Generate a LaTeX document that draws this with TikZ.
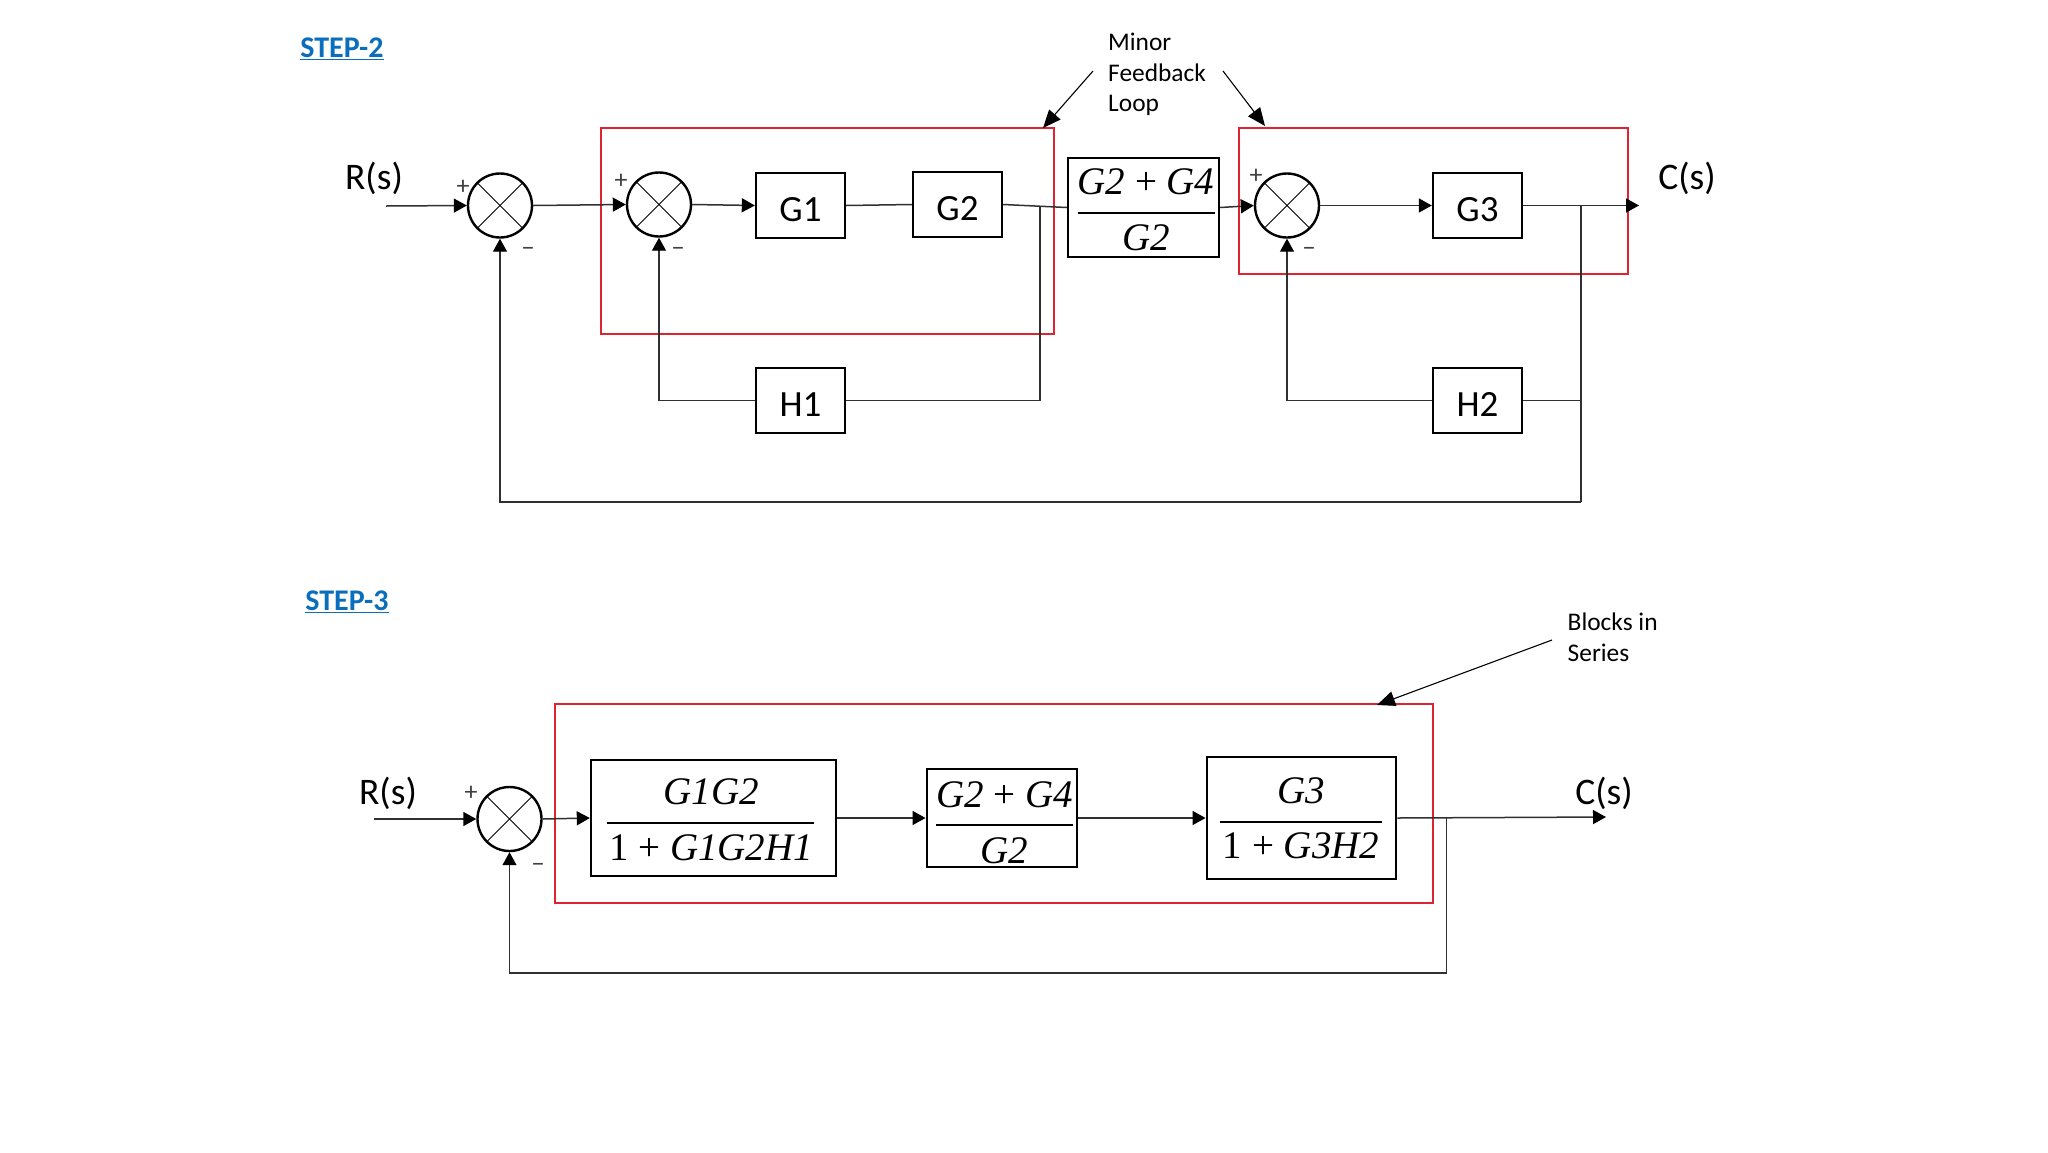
\documentclass[tikz,border=0pt]{standalone}
\usepackage{fontspec}
\setmainfont{Carlito}
\newfontfamily\eqfont{Liberation Serif}
\usetikzlibrary{arrows.meta}
\definecolor{stepblue}{HTML}{0A6EBD}
\definecolor{boxred}{HTML}{DE2430}
\definecolor{wire}{HTML}{303030}
\newcommand{\frtext}[1]{{\eqfont\fontsize{39}{39}\selectfont #1}}
\tikzset{
  x=1pt,y=-1pt,
  blockbox/.style={draw=black,line width=2.4pt,fill=white,inner sep=0pt,minimum width=#1,font=\fontsize{37}{40}\selectfont,text height=34pt,text depth=2pt},
  blockbox/.default=89pt,
  sumcircle/.style={circle,draw=black,line width=2.4pt,fill=white,minimum size=64pt,inner sep=0pt},
  redbox/.style={draw=boxred,line width=2pt,inner sep=0pt},
  wireline/.style={draw=wire,line width=1.5pt},
  feedline/.style={draw=wire,line width=1.2pt},
  signal/.style={wireline,-{Triangle[length=13pt,width=14pt,color=black,fill=black]}},
  feedsignal/.style={feedline,-{Triangle[length=13pt,width=14pt,color=black,fill=black]}},
  pointer/.style={draw=black,line width=1.1pt,-{Triangle[length=18pt,width=15pt]}},
  crossline/.style={draw=black,line width=1pt},
  bar/.style={fill=black,inner sep=0pt,minimum height=2.2pt},
  siglabel/.style={font=\fontsize{37.5}{40}\selectfont,inner sep=0pt},
  sign/.style={font=\fontsize{26}{26}\selectfont,text=black!75,inner sep=0pt},
  note/.style={font=\fontsize{25.4}{30.7}\selectfont,align=left,inner sep=0pt},
  steptitle/.style={font=\fontsize{30}{32}\selectfont\bfseries,text=stepblue,inner sep=0pt},
  eqnum/.style={inner sep=0pt}
}
\begin{document}
\begin{tikzpicture}
\path[use as bounding box,fill=white] (0,0) rectangle (2048,1152);

% ---- STEP-2 ----
\node[steptitle] (t2) at (342,49) {\underline{STEP-2}};
\node[redbox,minimum width=453pt,minimum height=206pt] (r1) at (827.5,231) {};
\node[redbox,minimum width=389pt,minimum height=146pt] (r2) at (1433.5,201) {};

\node[siglabel] (rs1) at (374,178) {R(s)};
\node[siglabel] (cs1) at (1687,178) {C(s)};
\coordinate (in1) at (386,206);

\node[sumcircle] (c1) at (500,205.5) {};
\node[sumcircle] (c2) at (659,204.5) {};
\node[sumcircle] (c3) at (1287,205.5) {};
\foreach \c in {c1,c2,c3}{
  \draw[crossline] (\c.45) -- (\c.225);
  \draw[crossline] (\c.135) -- (\c.315);
}
\node[sign] (p1) at (463,187) {+};
\node[sign] (m1) at (528,252) {−};
\node[sign] (p2) at (621,181) {+};
\node[sign] (m2) at (678,252) {−};
\node[sign] (p3) at (1256,176) {+};
\node[sign] (m3) at (1309,252) {−};

\node[blockbox,minimum height=65pt] (g1) at (800.5,205.5) {G1};
\node[blockbox,minimum height=65pt] (g2) at (957.5,204.5) {G2};
\node[blockbox,minimum height=65pt] (g3) at (1477.5,205.5) {G3};
\node[blockbox,minimum height=65pt] (h1) at (800.5,400.5) {H1};
\node[blockbox,minimum height=65pt] (h2) at (1477.5,400.5) {H2};
\node[draw=black,line width=2.4pt,fill=white,minimum width=151pt,minimum height=99pt,inner sep=0pt] (f1) at (1143.5,207.5) {};
\node[bar,minimum width=137pt] (b1) at (1146.5,213) {};
\node[eqnum] (n1) at (1146,182) {\frtext{\textit{G2} + \textit{G4}}};
\node[eqnum] (d1) at (1146,238) {\frtext{\textit{G2}}};

\coordinate (j1) at (1040,206.5);
\coordinate (j1b) at (1040,400.5);
\coordinate (j2) at (1581,205.5);
\coordinate (j2h) at (1581,400.5);
\coordinate (j2b) at (1581,502);
\coordinate (out1) at (1639,205.5);

\draw[signal] (in1) -- (c1.west);
\draw[signal] (c1.east) -- (c2.west);
\draw[signal] (c2.east) -- (g1.west);
\draw[wireline] (g1.east) -- (g2.west);
\draw[wireline] (g2.east) -- (f1.west);
\draw[signal] (f1.east) -- (c3.west);
\draw[signal] (c3.east) -- (g3.west);
\draw[signal] (g3.east) -- (out1);
\draw[feedline] (j1) -- (j1b);
\draw[feedline] (j1b) -- (h1.east);
\draw[feedsignal] (h1.west) -| (c2.south);
\draw[feedline] (j2) -- (j2b);
\draw[feedline] (j2h) -- (h2.east);
\draw[feedsignal] (h2.west) -| (c3.south);
\draw[feedsignal] (j2b) -| (c1.south);

\node[note,anchor=west] (n2) at (1108,74.5) {Minor\\Feedback\\Loop};
\coordinate (a1s) at (1093,71);
\coordinate (a1e) at (1043,128);
\coordinate (a2s) at (1223,71);
\coordinate (a2e) at (1265,126);
\draw[pointer] (a1s) -- (a1e);
\draw[pointer] (a2s) -- (a2e);

% ---- STEP-3 ----
\node[steptitle] (t3) at (347,601.5) {\underline{STEP-3}};
\node[redbox,minimum width=878pt,minimum height=199pt] (r3) at (993.5,803.5) {};

\node[siglabel] (rs2) at (388,793) {R(s)};
\node[siglabel] (cs2) at (1604,793) {C(s)};
\coordinate (in2) at (374,819);
\node[sumcircle] (c4) at (509.5,819) {};
\draw[crossline] (c4.45) -- (c4.225);
\draw[crossline] (c4.135) -- (c4.315);
\node[sign] (p4) at (471,793) {+};
\node[sign] (m4) at (538,868) {−};

\node[draw=black,line width=2.4pt,fill=white,minimum width=245pt,minimum height=116pt,inner sep=0pt] (f2) at (713.5,818) {};
\node[bar,minimum width=207pt] (b2) at (710,823) {};
\node[eqnum] (n3) at (711,792) {\frtext{\textit{G1G2}}};
\node[eqnum] (d3) at (711,848) {\frtext{1 + \textit{G1G2H1}}};

\node[draw=black,line width=2.4pt,fill=white,minimum width=150.5pt,minimum height=98pt,inner sep=0pt] (f3) at (1002,818) {};
\node[bar,minimum width=137pt] (b3) at (1004.5,825) {};
\node[eqnum] (n4) at (1004.5,795) {\frtext{\textit{G2} + \textit{G4}}};
\node[eqnum] (d4) at (1004.5,851) {\frtext{\textit{G2}}};

\node[draw=black,line width=2.4pt,fill=white,minimum width=189.5pt,minimum height=122pt,inner sep=0pt] (f4) at (1301.5,818) {};
\node[bar,minimum width=162pt] (b4) at (1301,822) {};
\node[eqnum] (n5) at (1301,791) {\frtext{\textit{G3}}};
\node[eqnum] (d5) at (1301,846) {\frtext{1 + \textit{G3H2}}};

\coordinate (j3) at (1446.5,818);
\coordinate (j3b) at (1446.5,973);
\coordinate (out2) at (1606,817);

\draw[signal] (in2) -- (c4.west);
\draw[signal] (c4.east) -- (f2.west);
\draw[signal] (f2.east) -- (f3.west);
\draw[signal] (f3.east) -- (f4.west);
\draw[signal] (f4.east) -- (out2);
\draw[feedline] (j3) -- (j3b);
\draw[feedsignal] (j3b) -| (c4.south);

\node[note,anchor=west] (n6) at (1567.5,637) {Blocks in\\Series};
\coordinate (a3s) at (1552,640);
\coordinate (a3e) at (1377,705);
\draw[pointer] (a3s) -- (a3e);
\end{tikzpicture}
\end{document}
